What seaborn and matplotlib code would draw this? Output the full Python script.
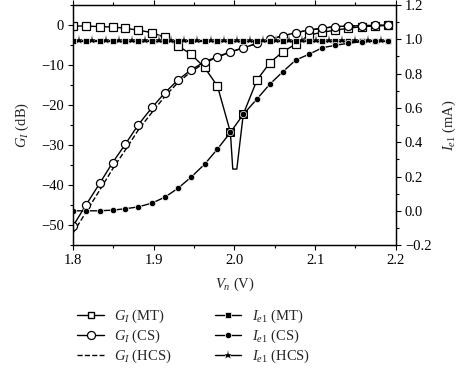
import numpy as np
import pandas as pd
import matplotlib
matplotlib.use("Agg")
import matplotlib.pyplot as plt
from matplotlib.ticker import MultipleLocator
from matplotlib.lines import Line2D
import seaborn as sns

# =========================
# DATA
# =========================

vn = [1.800, 1.816, 1.833, 1.849, 1.865, 1.881, 1.898, 1.914, 1.930, 1.946,
      1.963, 1.979, 1.995, 2.011, 2.028, 2.044, 2.060, 2.076, 2.093, 2.109,
      2.125, 2.141, 2.158, 2.174, 2.190]

# G_I in dB
gi_mt = [-0.25, -0.25, -0.4, -0.5, -0.8, -1.3, -1.9, -3.1, -5.2, -7.25,
         -10.6, -15.25, -26.75, -22.3, -13.75, -9.4, -6.7, -4.75, -2.5, -1.8,
         -1.3, -0.8, -0.4, -0.25, -0.1]
# sharp notch of the MT curve between two samples
vn_dip = [1.998, 2.003]
gi_dip = [-36.0, -36.0]

gi_cs = [-50.25, -45.0, -39.6, -34.4, -29.75, -24.9, -20.6, -16.9, -13.75, -11.25,
         -9.2, -7.9, -6.7, -5.7, -4.6, -3.5, -2.75, -1.9, -1.25, -0.8,
         -0.4, -0.25, -0.15, -0.1, -0.05]
gi_hcs = [-52.0, -46.8, -41.3, -36.0, -31.2, -26.2, -21.8, -17.8, -14.4, -11.7,
          -9.5, -8.0, -6.8, -5.7, -4.6, -3.5, -2.75, -1.9, -1.25, -0.8,
          -0.4, -0.25, -0.15, -0.1, -0.05]

# I_e1 in mA
ie_mt = [0.99, 0.99, 0.99, 0.99, 0.99, 0.99, 0.99, 0.99, 0.99, 0.99,
         0.99, 0.99, 0.99, 0.99, 0.99, 0.99, 0.99, 0.99, 0.99, 0.99,
         0.99, 0.99, 0.99, 0.99, 0.99]
ie_cs = [0.0, 0.0, 0.0, 0.004, 0.012, 0.023, 0.045, 0.08, 0.131, 0.195,
         0.271, 0.36, 0.457, 0.562, 0.652, 0.739, 0.811, 0.879, 0.914, 0.951,
         0.965, 0.977, 0.986, 0.99, 0.99]
vn_star = [1.808, 1.824, 1.841, 1.857, 1.873, 1.889, 1.906, 1.922, 1.938, 1.954,
           1.971, 1.987, 2.003, 2.019, 2.036, 2.052, 2.068, 2.084, 2.101, 2.117,
           2.133, 2.149, 2.166, 2.182]
ie_hcs = [0.995, 0.995, 0.995, 0.995, 0.995, 0.995, 0.995, 0.995, 0.995, 0.995,
          0.995, 0.995, 0.995, 0.995, 0.995, 0.995, 0.995, 0.995, 0.995, 0.995,
          0.995, 0.995, 0.995, 0.995]

# =========================
# STYLE
# =========================

sns.set_style("ticks")
plt.rcParams['font.family'] = ['Liberation Serif', 'DejaVu Serif']
plt.rcParams['mathtext.fontset'] = 'custom'
plt.rcParams['mathtext.rm'] = 'Liberation Serif'
plt.rcParams['mathtext.it'] = 'Liberation Serif:italic'
plt.rcParams['font.size'] = 10.5
plt.rcParams['axes.linewidth'] = 0.9
plt.rcParams['axes.edgecolor'] = 'black'
plt.rcParams['xtick.color'] = 'black'
plt.rcParams['ytick.color'] = 'black'

fig = plt.figure(figsize=(4.74, 3.86), dpi=100)
ax = fig.add_axes([0.154, 0.365, 0.681, 0.622])
ax2 = ax.twinx()

# =========================
# G_I CURVES (left axis)
# =========================

mt_line = pd.DataFrame({'vn': vn[:13] + vn_dip + vn[13:],
                        'g': gi_mt[:13] + gi_dip + gi_mt[13:]})
sns.lineplot(data=mt_line, x='vn', y='g', ax=ax, color='black', lw=1.0)
open_idx = [i for i in range(len(vn)) if i not in (12, 13)]
mt_pts = pd.DataFrame({'vn': [vn[i] for i in open_idx], 'g': [gi_mt[i] for i in open_idx]})
sns.lineplot(data=mt_pts, x='vn', y='g', ax=ax, color='black', linestyle='',
             marker='s', markersize=5.2, markerfacecolor='white',
             markeredgecolor='black', markeredgewidth=0.9)
sns.lineplot(x=vn[12:14], y=gi_mt[12:14], ax=ax, color='black', linestyle='',
             marker='s', markersize=5.2, markerfacecolor='black',
             markeredgecolor='black', zorder=5)

sns.lineplot(x=vn, y=gi_hcs, ax=ax, color='black', lw=1.0, linestyle='--')
sns.lineplot(x=vn, y=gi_cs, ax=ax, color='black', lw=1.0, marker='o',
             markersize=5.8, markerfacecolor='white', markeredgecolor='black',
             markeredgewidth=0.9)

# =========================
# I_e1 CURVES (right axis)
# =========================

sns.lineplot(x=vn_star, y=ie_hcs, ax=ax2, color='black', lw=1.0, marker='*',
             markersize=6.5, markeredgewidth=0.3)
sns.lineplot(x=vn, y=ie_mt, ax=ax2, color='black', lw=1.0, marker='s',
             markersize=4.2, markeredgewidth=0.5)
sns.lineplot(x=vn, y=ie_cs, ax=ax2, color='black', lw=1.0, marker='o',
             markersize=4.6, markeredgewidth=0.5)

# =========================
# AXES
# =========================

ax.set_xlim(1.8, 2.2)
ax.set_ylim(-55, 5)
ax2.set_ylim(-0.2, 1.2)
ax.set_xticks([1.8, 1.9, 2.0, 2.1, 2.2])
ax.xaxis.set_minor_locator(MultipleLocator(0.05))
ax.set_yticks([0, -10, -20, -30, -40, -50])
ax.yaxis.set_minor_locator(MultipleLocator(5))
ax2.set_yticks(np.arange(-0.2, 1.21, 0.2))
ax2.yaxis.set_minor_locator(MultipleLocator(0.1))
ax2.set_yticklabels(['\u22120.2', '0.0', '0.2', '0.4', '0.6', '0.8', '1.0', '1.2'])

for a in (ax, ax2):
    a.tick_params(which='major', direction='out', length=3.5, width=0.8, labelsize=10.5, pad=3)
    a.tick_params(which='minor', direction='out', length=2.2, width=0.8)
ax.tick_params(which='both', top=True)

ax.set_xlabel('$V_n$ (V)', fontsize=10.5, labelpad=6)
ax.set_ylabel('$G_I$ (dB)', fontsize=10.5, labelpad=7)
ax2.set_ylabel('$I_{e\\mathrm{1}}$ (mA)', fontsize=10.5, labelpad=7)

# =========================
# LEGEND
# =========================

h1 = ax.get_lines()
h2 = ax2.get_lines()
handles = [Line2D([], [], color='black', lw=1.0, marker='s', markersize=5,
                  markerfacecolor='white', markeredgecolor='black'),
           h1[4], h1[3], h2[1], h2[2], h2[0]]
labels = ['$G_I$ (MT)', '$G_I$ (CS)', '$G_I$ (HCS)',
          '$I_{e\\mathrm{1}}$ (MT)', '$I_{e\\mathrm{1}}$ (CS)', '$I_{e\\mathrm{1}}$ (HCS)']
fig.legend(handles, labels, ncol=2, loc='upper left', bbox_to_anchor=(0.148, 0.222),
           frameon=False, fontsize=10.5, handlelength=1.8, handletextpad=0.7,
           columnspacing=3.0, labelspacing=0.2, borderpad=0)

fig.savefig('out.png', dpi=100)
